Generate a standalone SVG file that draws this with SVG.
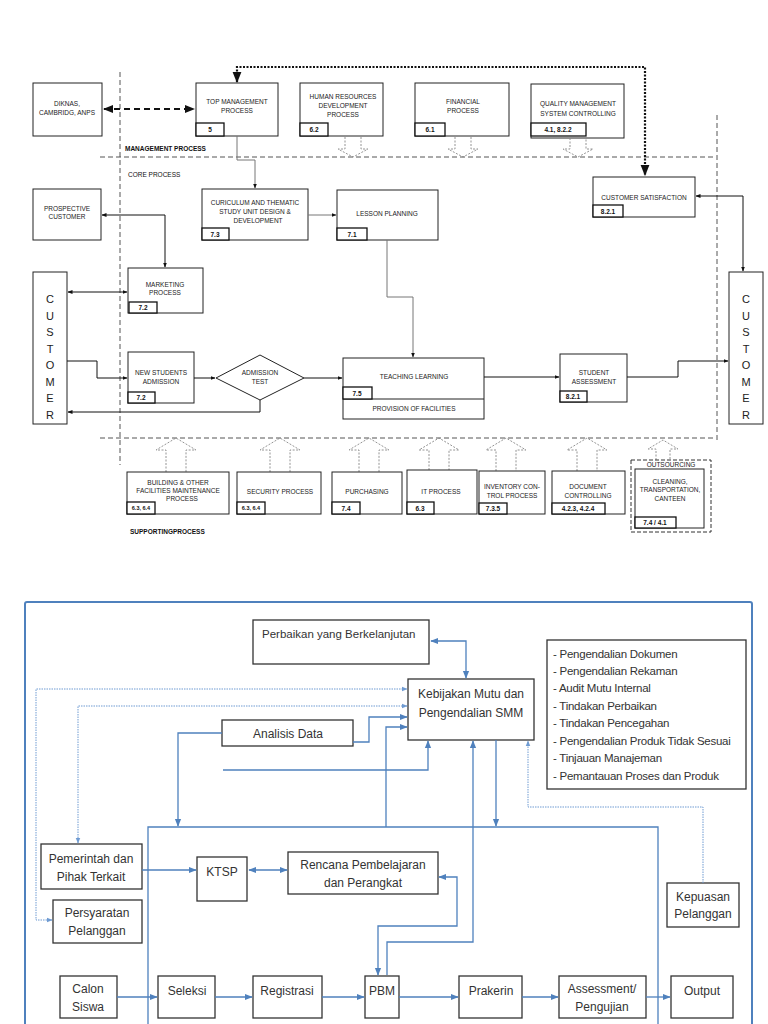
<svg xmlns="http://www.w3.org/2000/svg" width="768" height="1024" viewBox="0 0 768 1024">
<defs>
<marker id="ak" viewBox="0 0 10 10" refX="9" refY="5" markerWidth="5" markerHeight="5" orient="auto-start-reverse"><path d="M0,1 L10,5 L0,9 z" fill="#111"/></marker>
<marker id="ab" viewBox="0 0 10 10" refX="9" refY="5" markerWidth="6" markerHeight="6" orient="auto-start-reverse"><path d="M0,1 L10,5 L0,9 z" fill="#4f81bd"/></marker>
<marker id="abl" viewBox="0 0 10 10" refX="9" refY="5" markerWidth="6" markerHeight="6" orient="auto-start-reverse"><path d="M0,1 L10,5 L0,9 z" fill="#6f9bd2"/></marker>
</defs>
<style>
.bx{fill:#fff;stroke:#222;stroke-width:1}
.lb{fill:#fff;stroke:#111;stroke-width:1.3}
.t{font-family:"Liberation Sans",Arial,sans-serif;font-size:6.5px;fill:#222;text-anchor:middle}
.tb{font-family:"Liberation Sans",Arial,sans-serif;font-size:6.5px;fill:#111;font-weight:bold}
.tl{font-family:"Liberation Sans",Arial,sans-serif;font-size:6.5px;fill:#111;font-weight:bold;text-anchor:middle}
.cu{font-family:"Liberation Sans",Arial,sans-serif;font-size:11px;fill:#222;text-anchor:middle}
.ln{fill:none;stroke:#111;stroke-width:1}
.lg{fill:none;stroke:#777;stroke-width:1}
.dsh{fill:none;stroke:#555;stroke-width:1;stroke-dasharray:5,3}
.blk{fill:none;stroke:#888;stroke-width:0.9;stroke-dasharray:2,1.5}
.b{fill:#fff;stroke:#333;stroke-width:1.3}
.bt{font-family:"Liberation Sans",Arial,sans-serif;font-size:12px;fill:#333;text-anchor:middle}
.li{font-family:"Liberation Sans",Arial,sans-serif;font-size:11.5px;fill:#333;letter-spacing:-0.25px}
.bl{fill:none;stroke:#4f81bd;stroke-width:1.3}
.bd{fill:none;stroke:#6f9bd2;stroke-width:1;stroke-dasharray:1.5,1}
</style>
<rect width="768" height="1024" fill="#fff"/>

<!-- ===== TOP DIAGRAM ===== -->
<g id="separators">
<line x1="120" y1="72" x2="120" y2="465" class="dsh"/>
<line x1="100" y1="157" x2="716" y2="157" class="dsh"/>
<line x1="717" y1="115" x2="717" y2="440" class="dsh"/>
<line x1="100" y1="438" x2="716" y2="438" class="dsh"/>
<text x="125" y="151" class="tb">MANAGEMENT PROCESS</text>
<text x="128" y="177" class="tb" style="font-weight:normal">CORE PROCESS</text>
<text x="130" y="534" class="tb">SUPPORTINGPROCESS</text>
</g>

<g id="diknas"><rect x="33" y="83" width="69" height="53" class="bx"/><text x="67" y="106" class="t">DIKNAS,</text><text x="67" y="115" class="t">CAMBRIDG, ANPS</text></g>
<g id="topmgmt"><rect x="196" y="83" width="82" height="53" class="bx"/><text x="237" y="104" class="t">TOP MANAGEMENT</text><text x="237" y="113" class="t">PROCESS</text><rect x="196" y="123" width="28" height="13" class="lb"/><text x="210" y="132" class="tl">5</text></g>
<g id="hr"><rect x="300" y="83" width="83" height="53" class="bx"/><text x="343" y="99" class="t">HUMAN RESOURCES</text><text x="343" y="108" class="t">DEVELOPMENT</text><text x="343" y="117" class="t">PROCESS</text><rect x="300" y="123" width="28" height="13" class="lb"/><text x="314" y="132" class="tl">6.2</text></g>
<g id="financial"><rect x="415" y="83" width="94" height="53" class="bx"/><text x="463" y="104" class="t">FINANCIAL</text><text x="463" y="113" class="t">PROCESS</text><rect x="415" y="123" width="30" height="13" class="lb"/><text x="430" y="132" class="tl">6.1</text></g>
<g id="qms"><rect x="531" y="84" width="93" height="54" class="bx"/><text x="578" y="106" class="t">QUALITY MANAGEMENT</text><text x="578" y="116" class="t">SYSTEM CONTROLLING</text><rect x="531" y="123" width="55" height="13" class="lb"/><text x="558" y="132" class="tl">4.1, 8.2.2</text></g>

<g id="down-block-arrows">
<path d="M345,137 V149 H338 L353,157 L368,149 H361 V137" class="blk"/>
<path d="M455,137 V149 H448 L463,157 L478,149 H471 V137" class="blk"/>
<path d="M570,138 V149 H563 L578,157 L593,149 H586 V138" class="blk"/>
</g>

<g id="prospective"><rect x="33" y="189" width="68" height="51" class="bx"/><text x="67" y="211" class="t">PROSPECTIVE</text><text x="67" y="219" class="t">CUSTOMER</text></g>
<g id="curriculum"><rect x="202" y="189" width="106" height="51" class="bx"/><text x="255" y="205" class="t">CURICULUM AND THEMATIC</text><text x="255" y="214" class="t">STUDY UNIT DESIGN &amp;</text><text x="258" y="223" class="t">DEVELOPMENT</text><rect x="202" y="228" width="27" height="12" class="lb"/><text x="215" y="237" class="tl">7.3</text></g>
<g id="lesson"><rect x="337" y="190" width="101" height="50" class="bx"/><text x="387" y="216" class="t">LESSON PLANNING</text><rect x="337" y="228" width="30" height="12" class="lb"/><text x="352" y="237" class="tl">7.1</text></g>
<g id="custsat"><rect x="593" y="177" width="102" height="40" class="bx"/><text x="644" y="200" class="t">CUSTOMER SATISFACTION</text><rect x="593" y="205" width="30" height="12" class="lb"/><text x="608" y="214" class="tl">8.2.1</text></g>
<g id="marketing"><rect x="128" y="268" width="75" height="45" class="bx"/><text x="165" y="287" class="t">MARKETING</text><text x="165" y="295" class="t">PROCESS</text><rect x="129" y="302" width="28" height="11" class="lb"/><text x="143" y="310" class="tl">7.2</text></g>
<g id="customer-left"><rect x="33" y="272" width="34" height="152" class="bx"/>
<text class="cu"><tspan x="50" y="303">C</tspan><tspan x="50" y="319.5">U</tspan><tspan x="50" y="336">S</tspan><tspan x="50" y="352.5">T</tspan><tspan x="50" y="369">O</tspan><tspan x="50" y="385.5">M</tspan><tspan x="50" y="402">E</tspan><tspan x="50" y="418.5">R</tspan></text></g>
<g id="customer-right"><rect x="729" y="272" width="34" height="152" class="bx"/>
<text class="cu"><tspan x="746" y="303">C</tspan><tspan x="746" y="319.5">U</tspan><tspan x="746" y="336">S</tspan><tspan x="746" y="352.5">T</tspan><tspan x="746" y="369">O</tspan><tspan x="746" y="385.5">M</tspan><tspan x="746" y="402">E</tspan><tspan x="746" y="418.5">R</tspan></text></g>
<g id="newstudents"><rect x="128" y="352" width="66" height="51" class="bx"/><text x="161" y="375" class="t">NEW STUDENTS</text><text x="161" y="384" class="t">ADMISSION</text><rect x="128" y="392" width="27" height="11" class="lb"/><text x="141" y="400" class="tl">7.2</text></g>
<g id="admission"><polygon points="216,378 260,355 304,378 260,400" class="bx"/><text x="260" y="375" class="t">ADMISSION</text><text x="260" y="384" class="t">TEST</text></g>
<g id="teaching"><rect x="343" y="358" width="141" height="61" class="bx"/><line x1="343" y1="399" x2="484" y2="399" stroke="#222"/><text x="414" y="379" class="t">TEACHING LEARNING</text><rect x="343" y="387" width="29" height="12" class="lb"/><text x="357" y="396" class="tl">7.5</text><text x="414" y="411" class="t">PROVISION OF FACILITIES</text></g>
<g id="assessment"><rect x="560" y="354" width="67" height="48" class="bx"/><text x="594" y="375" class="t">STUDENT</text><text x="594" y="384" class="t">ASSESSMENT</text><rect x="560" y="391" width="27" height="11" class="lb"/><text x="573" y="399" class="tl">8.2.1</text></g>

<g id="up-block-arrows">
<path d="M166,472 V450 H156 L176,438 L196,450 H186 V472" class="blk"/>
<path d="M270,472 V450 H260 L280,438 L300,450 H290 V472" class="blk"/>
<path d="M359,472 V450 H349 L369,438 L389,450 H379 V472" class="blk"/>
<path d="M429,470 V450 H419 L439,438 L459,450 H449 V470" class="blk"/>
<path d="M496,471 V450 H486 L506,438 L526,450 H516 V471" class="blk"/>
<path d="M577,471 V450 H567 L587,438 L607,450 H597 V471" class="blk"/>
<path d="M656,460 V449 H648 L663,440 L678,449 H670 V460" class="blk"/>
</g>
<g id="building"><rect x="127" y="472" width="102" height="42" class="bx"/><text x="178" y="485" class="t">BUILDING &amp; OTHER</text><text x="178" y="493" class="t">FACILITIES MAINTENANCE</text><text x="182" y="501" class="t">PROCESS</text><rect x="127" y="502" width="28" height="12" class="lb"/><text x="141" y="510" class="tl" style="font-size:5.5px">6.3, 6.4</text></g>
<g id="security"><rect x="237" y="472" width="84" height="42" class="bx"/><text x="280" y="494" class="t">SECURITY PROCESS</text><rect x="237" y="502" width="28" height="12" class="lb"/><text x="251" y="510" class="tl" style="font-size:5.5px">6.3, 6.4</text></g>
<g id="purchasing"><rect x="332" y="472" width="70" height="42" class="bx"/><text x="367" y="494" class="t">PURCHASING</text><rect x="332" y="502" width="28" height="12" class="lb"/><text x="346" y="511" class="tl">7.4</text></g>
<g id="itprocess"><rect x="407" y="470" width="70" height="44" class="bx"/><text x="441" y="494" class="t">IT PROCESS</text><rect x="407" y="502" width="27" height="12" class="lb"/><text x="420" y="511" class="tl">6.3</text></g>
<g id="inventory"><rect x="479" y="471" width="66" height="43" class="bx"/><text x="512" y="489" class="t">INVENTORY CON-</text><text x="512" y="498" class="t">TROL PROCESS</text><rect x="479" y="503" width="28" height="11" class="lb"/><text x="493" y="511" class="tl">7.3.5</text></g>
<g id="document"><rect x="552" y="471" width="73" height="43" class="bx"/><text x="588" y="489" class="t">DOCUMENT</text><text x="588" y="498" class="t">CONTROLLING</text><rect x="552" y="503" width="53" height="11" class="lb"/><text x="578" y="511" class="tl">4.2.3, 4.2.4</text></g>
<g id="outsourcing"><rect x="631" y="460" width="80" height="72" fill="none" stroke="#333" stroke-dasharray="4,2"/><text x="671" y="467" class="t">OUTSOURCING</text><rect x="635" y="469" width="69" height="59" class="bx"/><text x="670" y="484" class="t">CLEANING,</text><text x="670" y="492" class="t">TRANSPORTATION,</text><text x="670" y="501" class="t">CANTEEN</text><rect x="635" y="517" width="41" height="11" class="lb"/><text x="655" y="525" class="tl">7.4 / 4.1</text></g>

<g id="connectors-top">
<line x1="104" y1="109" x2="194" y2="109" stroke="#111" stroke-width="2" stroke-dasharray="6,4" marker-start="url(#ak)" marker-end="url(#ak)"/>
<path d="M237,82 V67 H645 V175" fill="none" stroke="#111" stroke-width="2.2" stroke-dasharray="2,1.5" marker-start="url(#ak)" marker-end="url(#ak)"/>
<path d="M237,136 V160 H255 V188" class="lg" marker-end="url(#ak)"/>
<line x1="308" y1="215" x2="336" y2="215" class="lg" marker-end="url(#ak)"/>
<path d="M387,240 V297 H413 V357" class="lg" stroke="#333" marker-end="url(#ak)"/>
<path d="M102,215 H165 V267" class="ln" marker-start="url(#ak)" marker-end="url(#ak)"/>
<line x1="68" y1="292" x2="127" y2="292" class="ln" marker-start="url(#ak)" marker-end="url(#ak)"/>
<path d="M67,361 H97 V378 H127" class="ln" marker-end="url(#ak)"/>
<line x1="194" y1="378" x2="215" y2="378" class="ln" marker-end="url(#ak)"/>
<line x1="304" y1="378" x2="342" y2="378" class="ln" marker-end="url(#ak)"/>
<path d="M260,400 V412 H68" class="ln" marker-end="url(#ak)"/>
<line x1="484" y1="377" x2="559" y2="377" class="ln" marker-end="url(#ak)"/>
<path d="M627,377 H678 V361 H728" class="ln" marker-end="url(#ak)"/>
<path d="M696,196 H743 V271" class="ln" marker-start="url(#ak)" marker-end="url(#ak)"/>
</g>

<!-- ===== BOTTOM DIAGRAM ===== -->
<rect x="25" y="602" width="727" height="440" fill="none" stroke="#4f81bd" stroke-width="2" rx="2"/>

<g id="perbaikan"><rect x="253" y="620" width="176" height="44" class="b"/><text x="262" y="638" class="bt" style="text-anchor:start;font-size:11.5px">Perbaikan yang Berkelanjutan</text></g>
<g id="kebijakan"><rect x="408" y="679" width="126" height="61" class="b"/><text x="471" y="698" class="bt">Kebijakan Mutu dan</text><text x="471" y="717" class="bt">Pengendalian SMM</text></g>
<g id="list"><rect x="547" y="640" width="199" height="149" class="b"/>
<text class="li"><tspan x="553" y="658">- Pengendalian Dokumen</tspan><tspan x="553" y="675">- Pengendalian Rekaman</tspan><tspan x="553" y="692">- Audit Mutu Internal</tspan><tspan x="553" y="710">- Tindakan Perbaikan</tspan><tspan x="553" y="727">- Tindakan Pencegahan</tspan><tspan x="553" y="745">- Pengendalian Produk Tidak Sesuai</tspan><tspan x="553" y="762">- Tinjauan Manajeman</tspan><tspan x="553" y="780">- Pemantauan Proses dan Produk</tspan></text></g>
<g id="analisis"><rect x="222" y="720" width="131" height="26" class="b"/><text x="288" y="738" class="bt">Analisis Data</text></g>
<g id="pemerintah"><rect x="41" y="844" width="101" height="45" class="b"/><text x="91" y="863" class="bt">Pemerintah dan</text><text x="91" y="881" class="bt">Pihak Terkait</text></g>
<g id="persyaratan"><rect x="53" y="900" width="89" height="43" class="b"/><text x="97" y="917" class="bt">Persyaratan</text><text x="97" y="935" class="bt">Pelanggan</text></g>
<g id="ktsp"><rect x="197" y="857" width="50" height="44" class="b"/><text x="222" y="876" class="bt">KTSP</text></g>
<g id="rencana"><rect x="288" y="852" width="150" height="42" class="b"/><text x="363" y="869" class="bt">Rencana Pembelajaran</text><text x="363" y="887" class="bt">dan Perangkat</text></g>
<g id="kepuasan"><rect x="667" y="883" width="72" height="44" class="b"/><text x="703" y="901" class="bt">Kepuasan</text><text x="703" y="918" class="bt">Pelanggan</text></g>
<g id="calon"><rect x="60" y="976" width="57" height="42" class="b"/><text x="88" y="993" class="bt">Calon</text><text x="88" y="1011" class="bt">Siswa</text></g>
<g id="seleksi"><rect x="158" y="976" width="57" height="42" class="b"/><text x="187" y="995" class="bt">Seleksi</text></g>
<g id="registrasi"><rect x="253" y="976" width="69" height="42" class="b"/><text x="287" y="995" class="bt">Registrasi</text></g>
<g id="pbm"><rect x="365" y="976" width="34" height="42" class="b"/><text x="382" y="995" class="bt">PBM</text></g>
<g id="prakerin"><rect x="459" y="976" width="63" height="42" class="b"/><text x="491" y="995" class="bt">Prakerin</text></g>
<g id="assessment2"><rect x="559" y="976" width="87" height="42" class="b"/><text x="602" y="993" class="bt">Assessment/</text><text x="602" y="1011" class="bt">Pengujian</text></g>
<g id="output"><rect x="671" y="976" width="62" height="42" class="b"/><text x="702" y="995" class="bt">Output</text></g>

<g id="connectors-bottom">
<path d="M431,641 H466 V678" class="bl" marker-start="url(#ab)" marker-end="url(#ab)"/>
<path d="M52,920 H36 V689 H407" class="bd" marker-start="url(#abl)" marker-end="url(#abl)"/>
<path d="M78,843 V706 H407" class="bd" marker-start="url(#abl)" marker-end="url(#abl)"/>
<path d="M353,742 H369 V717 H407" class="bl" marker-end="url(#ab)"/>
<path d="M386,827 V727 H407" class="bl" marker-end="url(#ab)"/>
<path d="M222,733 H178 V826" class="bl" marker-end="url(#ab)"/>
<path d="M223,770 H428 V741" class="bl" marker-end="url(#ab)"/>
<path d="M387,975 V942 H473 V741" class="bl" marker-end="url(#ab)"/>
<line x1="496" y1="740" x2="496" y2="826" class="bl" marker-end="url(#ab)"/>
<path d="M148,1030 V827 H658 V1030" class="bl"/>
<path d="M703,883 V807 H528 V741" class="bd" marker-end="url(#abl)"/>
<line x1="142" y1="870" x2="196" y2="870" class="bl" marker-end="url(#ab)"/>
<line x1="249" y1="870" x2="287" y2="870" class="bl" marker-start="url(#ab)" marker-end="url(#ab)"/>
<path d="M378,975 V926 H457 V877 H439" class="bl" marker-start="url(#ab)" marker-end="url(#ab)"/>
<line x1="117" y1="997" x2="157" y2="997" class="bl" marker-end="url(#ab)"/>
<line x1="215" y1="997" x2="252" y2="997" class="bl" marker-end="url(#ab)"/>
<line x1="322" y1="997" x2="364" y2="997" class="bl" marker-end="url(#ab)"/>
<line x1="399" y1="997" x2="458" y2="997" class="bl" marker-end="url(#ab)"/>
<line x1="522" y1="997" x2="558" y2="997" class="bl" marker-end="url(#ab)"/>
<line x1="646" y1="997" x2="670" y2="997" class="bl" marker-end="url(#ab)"/>
</g>
</svg>
